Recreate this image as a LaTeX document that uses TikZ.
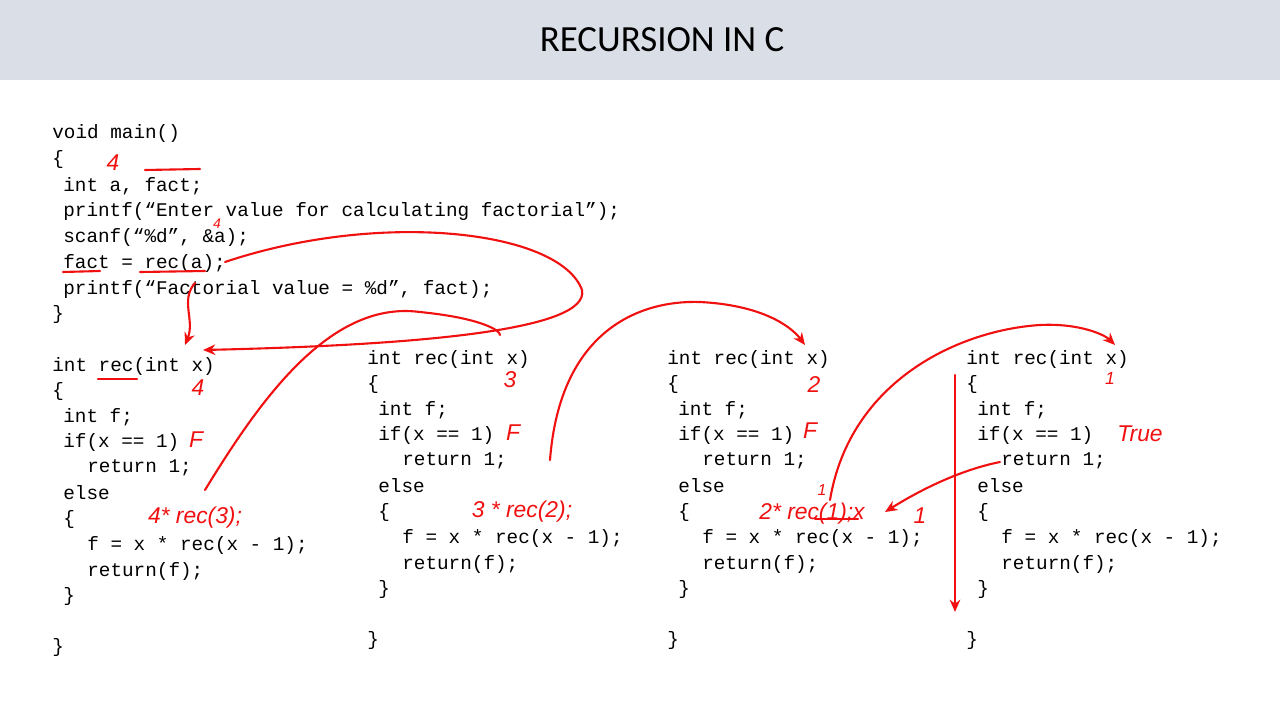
\documentclass[tikz,border=0pt]{standalone}
\usepackage{fontspec}
\setmainfont{Carlito}
\newfontfamily\codefont{Liberation Mono}
\newfontfamily\handfont{Liberation Sans}
\usetikzlibrary{arrows.meta}
\definecolor{band}{HTML}{D9DEE7}
\definecolor{ink}{HTML}{F01010}
\tikzset{
 code/.style={anchor=west,inner sep=0pt,font=\codefont\fontsize{11pt}{12pt}\selectfont},
 hand/.style={inner sep=0pt,text=ink,font=\handfont\itshape\fontsize{13pt}{14pt}\selectfont},
 pen/.style={draw=ink,line width=1.2pt,line cap=round},
 penarr/.style={pen,-{Stealth[length=7pt,width=6pt]}}
}
\begin{document}
\begin{tikzpicture}[x=0.02cm,y=-0.02cm]
\useasboundingbox (0,0) rectangle (1280,720);
\fill[band] (0,0) rectangle (1280,80);
\node[font=\fontsize{21pt}{24pt}\selectfont] (title) at (662,40) {RECURSION IN C};
% main
\node[code] (m1) at (52,134) {void main()};
\node[code] (m2) at (52,160) {\{};
\node[code] (m3) at (63,186) {int a, fact;};
\node[code] (m4) at (63,211) {printf(“Enter value for calculating factorial”);};
\node[code] (m5) at (63,237) {scanf(“\%d”, \&a);};
\node[code] (m6) at (63,263) {fact = rec(a);};
\node[code] (m7) at (63,289) {printf(“Factorial value = \%d”, fact);};
\node[code] (m8) at (52,314) {\}};
% blocks
\foreach \n/\X/\Y in {a/52/366,b/367/359,c/667/359,d/966/359}{
 \node[code] (\n1) at (\X,\Y) {int rec(int x)};
 \node[code] (\n2) at (\X,\Y+25.5) {\{};
 \node[code] (\n3) at (\X+11,\Y+51) {int f;};
 \node[code] (\n4) at (\X+11,\Y+76) {if(x == 1)};
 \node[code] (\n5) at (\X+35,\Y+102) {return 1;};
 \node[code] (\n6) at (\X+11,\Y+127) {else};
 \node[code] (\n7) at (\X+11,\Y+153) {\{};
 \node[code] (\n8) at (\X+35,\Y+179) {f = x * rec(x - 1);};
 \node[code] (\n9) at (\X+35,\Y+205) {return(f);};
 \node[code] (\n10) at (\X+11,\Y+230) {\}};
 \node[code] (\n11) at (\X,\Y+281) {\}};
}
% annotations
\node[hand] (h1) at (113,163) {4};
\node[hand,font=\handfont\itshape\fontsize{8pt}{9pt}\selectfont] (h2) at (217,224) {4};
\draw[pen] (145,170) -- (200,169);
\draw[pen] (63,272) -- (100,271);
\draw[pen] (140,272) -- (205,271);
\draw[pen] (98,379) -- (137,379);
\node[hand] (h3) at (198,388) {4};
\node[hand] (h4) at (196,440) {F};
\node[hand] (h5) at (195,518) {4* rec(3);};
\node[hand] (h6) at (510,380) {3};
\node[hand] (h7) at (513,433) {F};
\node[hand] (h8) at (522,512) {3 * rec(2);};
\node[hand] (h9) at (814,385) {2};
\node[hand] (h10) at (810,431) {F};
\node[hand] (h11) at (812,514) {2* rec(1);x};
\node[hand] (h12) at (920,516) {1};
\node[hand,font=\handfont\itshape\fontsize{9pt}{10pt}\selectfont] (h13) at (822,490) {1};
\draw[pen] (815,519) -- (858,519);
\node[hand,font=\handfont\itshape\fontsize{10pt}{10pt}\selectfont] (h14) at (1110,378) {1};
\node[hand] (h15) at (1140,434) {True};
% connectors
\coordinate (s1) at (225,262);
\coordinate (e1) at (203,350);
\draw[penarr] (s1) .. controls (380,210) and (560,230) .. (582,290) .. controls (590,330) and (420,345) .. (e1);
\draw[penarr] (195,283) .. controls (180,300) and (195,320) .. (185,345);
\draw[pen] (205,490) .. controls (260,400) and (330,300) .. (420,312) .. controls (480,318) and (500,330) .. (500,335);
\draw[penarr] (550,460) .. controls (560,330) and (640,300) .. (700,302) .. controls (760,305) and (790,325) .. (805,345);
\draw[penarr] (830,500) .. controls (850,380) and (960,330) .. (1040,325) .. controls (1080,323) and (1105,335) .. (1115,345);
\draw[penarr] (955,375) -- (955,612);
\draw[penarr] (1000,462) .. controls (960,470) and (920,490) .. (885,512);
\end{tikzpicture}
\end{document}
